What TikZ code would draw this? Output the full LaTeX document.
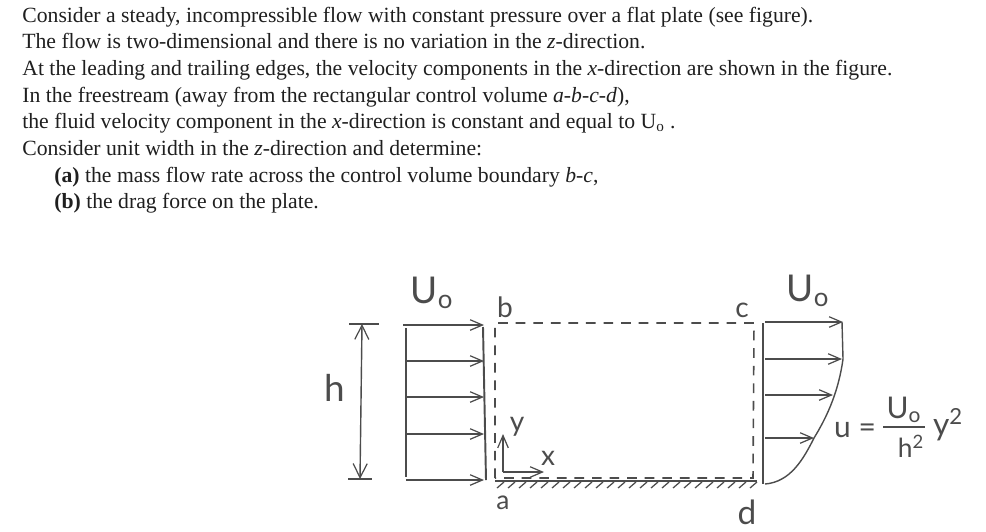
\documentclass[tikz,border=0pt]{standalone}
\usepackage{fontspec}
\setmainfont{Liberation Serif}
\setsansfont{Lato}
\usetikzlibrary{arrows.meta}
\definecolor{pencil}{gray}{0.3}
\tikzset{
	para/.style={anchor=base west,inner sep=0pt,font=\fontsize{12.35}{15}\selectfont,text=black!88},
	hand/.style={inner sep=0pt,text=pencil,font=\sffamily\fontsize{#1}{#1}\selectfont},
	hand/.default=16,
	line/.style={draw=pencil,line width=.8pt},
	vel/.style={line,-{Straight Barb[length=7pt,width=6pt,line width=.7pt]}},
	cv/.style={draw=pencil,line width=.9pt,dash pattern=on 5.5pt off 4.5pt},
}
\begin{document}
\begin{tikzpicture}[x=.02cm,y=-.02cm]
		\useasboundingbox (0,0) rectangle (986,531);
		\node[para] (l1) at (22,22) {Consider a steady, incompressible flow with constant pressure over a flat plate (see figure).};
		\node[para] (l2) at (22,48) {The flow is two-dimensional and there is no variation in the \textit{z}-direction.};
		\node[para] (l3) at (22,75) {At the leading and trailing edges, the velocity components in the \textit{x}-direction are shown in the figure.};
		\node[para] (l4) at (22,102) {In the freestream (away from the rectangular control volume \textit{a-b-c-d}),};
		\node[para] (l5) at (22,128) {the fluid velocity component in the \textit{x}-direction is constant and equal to U\textsubscript{o} .};
		\node[para] (l6) at (22,155) {Consider unit width in the \textit{z}-direction and determine:};
		\node[para] (l7) at (54,182) {\textbf{(a)} the mass flow rate across the control volume boundary \textit{b-c},};
		\node[para] (l8) at (54,208) {\textbf{(b)} the drag force on the plate.};

		\coordinate (a) at (495,478);
		\coordinate (b) at (495,323);
		\coordinate (c) at (754,323);
		\coordinate (d) at (753,478);
		\draw[cv] (a) -- (b) -- (c) -- (d) -- cycle;

		\coordinate (plateL) at (495,481);
		\coordinate (plateR) at (757,481);
		\draw[line,line width=1.1pt] (plateL) -- (plateR);
		\foreach \x in {497,508,...,750}
			\draw[line,line width=.7pt] (\x,488) -- (\x+7,482);

		\coordinate (dimT) at (362,324);
		\coordinate (dimB) at (360,479);
		\coordinate (dimTl) at (349,324);
		\coordinate (dimTr) at (379,324);
		\coordinate (dimBl) at (348,479);
		\coordinate (dimBr) at (372,479);
		\draw[line] (dimTl) -- (dimTr);
		\draw[line] (dimBl) -- (dimBr);
		\draw[line,{Straight Barb[length=8pt,width=8pt,line width=.7pt]}-{Straight Barb[length=8pt,width=8pt,line width=.7pt]}] (dimT) -- (dimB);

		\coordinate (inT) at (406,328);
		\coordinate (inB) at (406,477);
		\coordinate (inTr) at (483,327);
		\coordinate (inBr) at (486,480);
		\draw[line,line width=1.1pt] (inT) -- (inB);
		\draw[line,line width=1.1pt] (inTr) -- (inBr);
		\foreach \y/\xs in {325/403,361/406,397/406,434/406,480/406}
			\draw[vel] (\xs,\y) -- (484,\y);

		\coordinate (outT) at (763,323);
		\coordinate (outB) at (763,484);
		\draw[line,line width=1.1pt] (outT) -- (outB);
		\foreach \y/\xe in {322/843,359/842,395/833,438/814}
			\draw[vel] (765,\y) -- (\xe,\y);
		\draw[line] (842,322) -- (843,359) .. controls (838,395) and (825,420) .. (814,438) .. controls (803,460) and (790,482) .. (765,484);

		\coordinate (org) at (503,472);
		\coordinate (yEnd) at (503,434);
		\coordinate (xEnd) at (544,472);
		\draw[vel] (org) -- (yEnd);
		\draw[vel] (org) -- (xEnd);

		\node[hand=21] (hL) at (335,388) {h};
		\node[hand=21] (uIn) at (432,293) {U\textsubscript{o}};
		\node[hand=21] (uOut) at (808,291) {U\textsubscript{o}};
		\node[hand=16] (bL) at (505,307) {b};
		\node[hand=16] (cL) at (742,310) {c};
		\node[hand=15] (aL) at (503,503) {a};
		\node[hand=19] (dL) at (747,512) {d};
		\node[hand=16] (yL) at (517,427) {y};
		\node[hand=16] (xL) at (548,458) {x};
		\node[hand=17] (uL) at (855,430) {u =};
		\node[hand=17] (num) at (904,410) {U\textsubscript{o}};
		\coordinate (barL) at (883,427);
		\coordinate (barR) at (925,427);
		\draw[line] (barL) -- (barR);
		\node[hand=15] (den) at (911,446) {h\textsuperscript{2}};
		\node[hand=18] (yy) at (948,425) {y\textsuperscript{2}};
	\end{tikzpicture}
\end{document}
